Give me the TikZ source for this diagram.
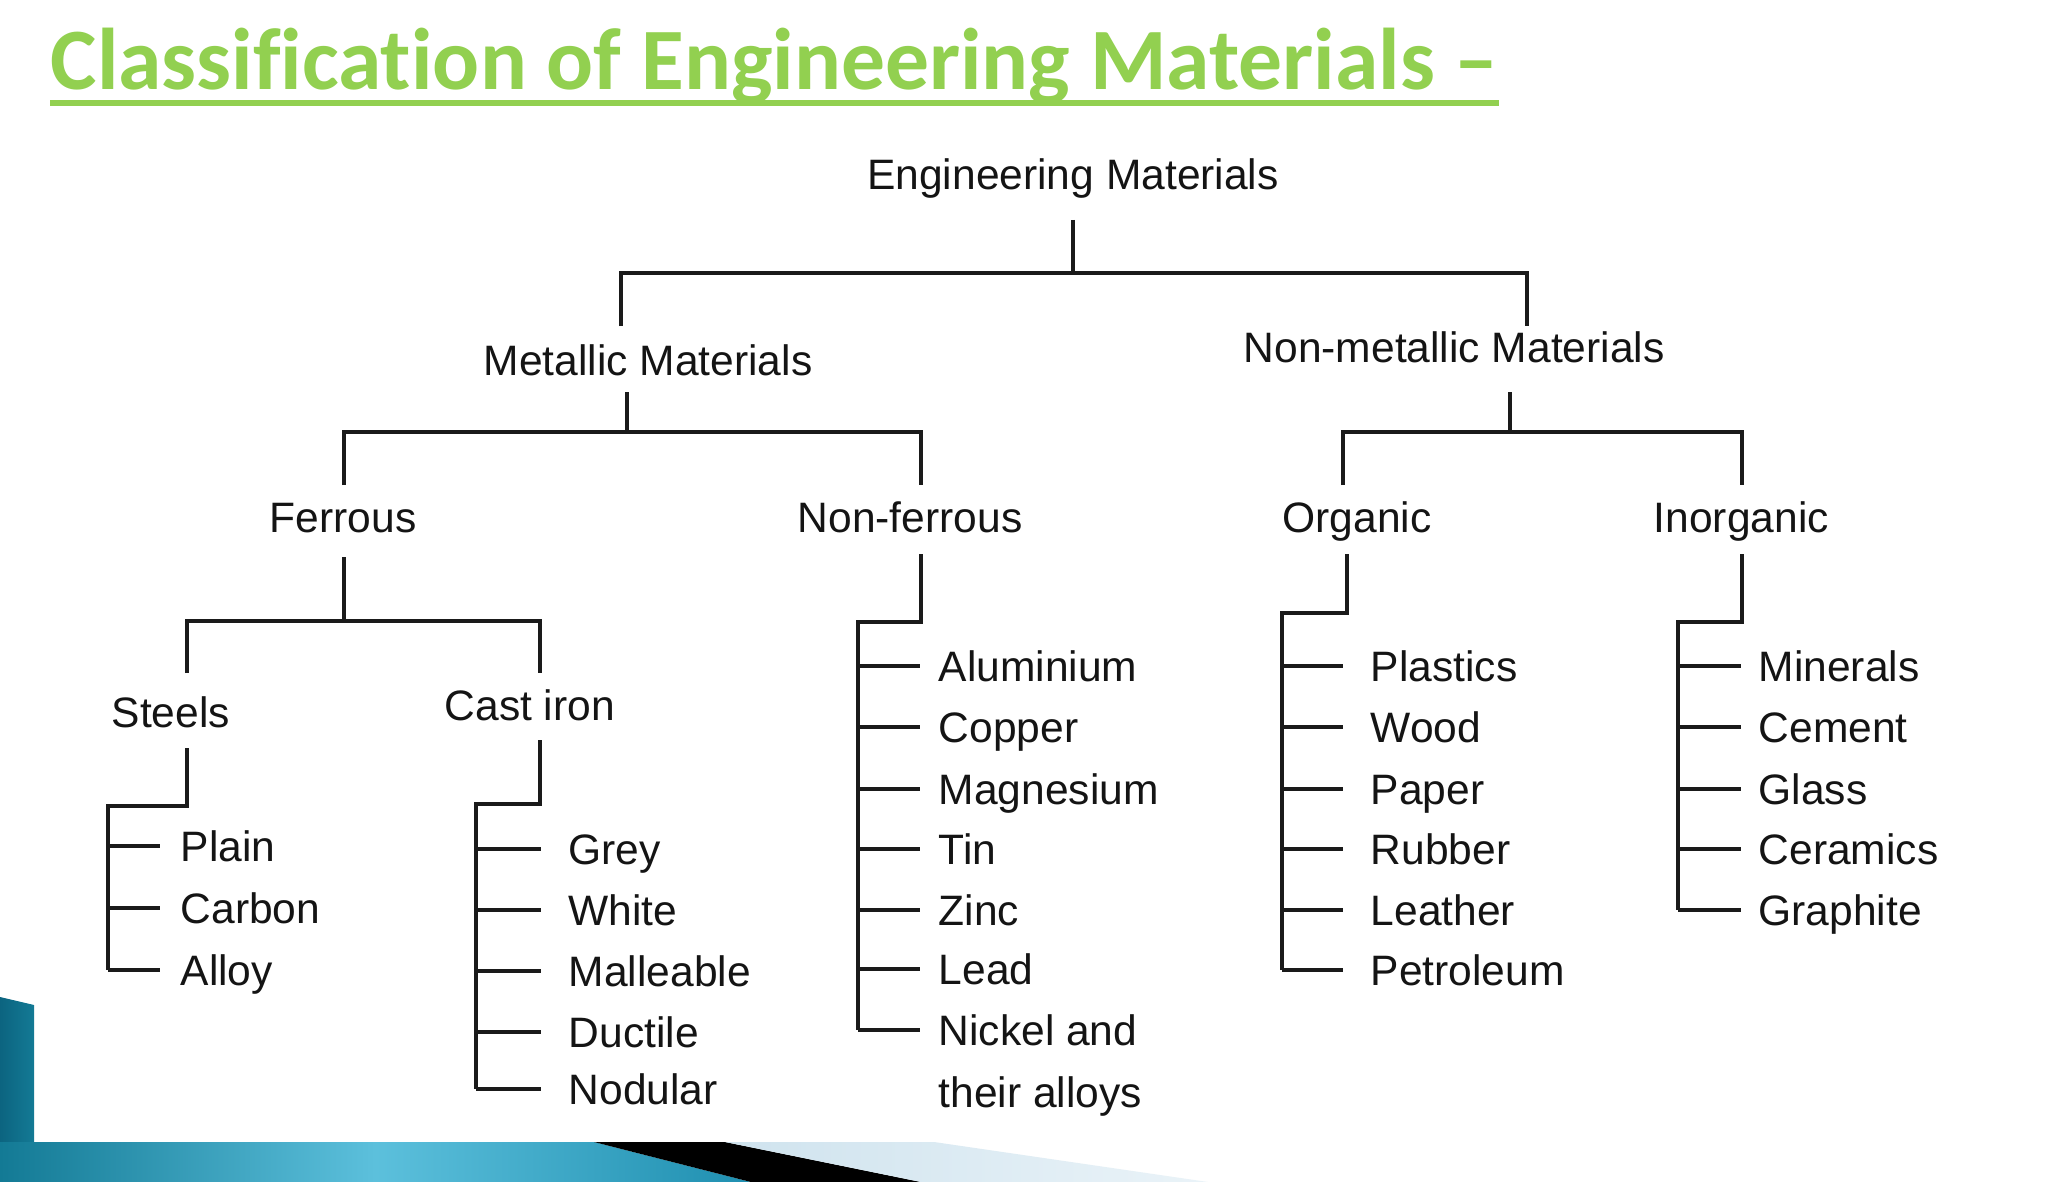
\documentclass[tikz,border=0pt]{standalone}
\usepackage{fontspec}
\newfontfamily\diagfont{Liberation Sans}
\newfontfamily\titlefont{Carlito}[Ligatures={NoCommon}]
\definecolor{titlegreen}{HTML}{92D050}
\definecolor{txtc}{HTML}{141414}
\definecolor{linec}{HTML}{1A1A1A}
\definecolor{tealdark}{HTML}{0C6480}
\definecolor{tealmid}{HTML}{137A95}
\definecolor{teallight}{HTML}{5CC0DC}
\definecolor{tealend}{HTML}{1F8FB0}
\definecolor{paleA}{HTML}{CFE3EE}
\definecolor{paleB}{HTML}{EAF3F8}
\begin{document}
\begin{tikzpicture}[x=0.01cm,y=-0.01cm,
  conn/.style={draw=linec,line width=0.95pt},
  lbl/.style={inner sep=0pt,anchor=base west,text=txtc,
    font=\diagfont\fontsize{12.1}{17.6}\selectfont},
  leaf/.style={inner sep=0pt,anchor=west,text=txtc,text height=8.7pt,text depth=0pt,
    font=\diagfont\fontsize{12.1}{17.6}\selectfont}]
\useasboundingbox (0,0) rectangle (2048,1182);
\fill[white] (0,0) rectangle (2048,1182);

% ---- bottom decoration ----
\shade[left color=tealdark,right color=tealmid] (0,997) -- (34,1005) -- (34,1182) -- (0,1182) -- cycle;
\shade[left color=tealmid,right color=tealend,middle color=teallight] (0,1142) -- (594,1142) -- (751,1182) -- (0,1182) -- cycle;
\fill[black] (594,1142) -- (725,1142) -- (921,1182) -- (751,1182) -- cycle;
\shade[left color=paleA,right color=paleB] (725,1142) -- (934,1142) -- (1208,1182) -- (921,1182) -- cycle;

% ---- title ----
\node[anchor=base west,inner sep=0pt,text=titlegreen,
  font=\titlefont\bfseries\fontsize{24.9}{30}\selectfont] (title) at (50,90)
  {Classification of Engineering Materials –};
\draw[titlegreen,line width=1.7pt] ([yshift=-0.13cm]title.base west) -- ([yshift=-0.13cm]title.base east);

% ---- upper levels ----
\node[lbl,anchor=base] (root) at (1073,190) {Engineering Materials};
\node[lbl] (metal) at (483,375) {Metallic Materials};
\node[lbl] (nonmetal) at (1243,362) {Non-metallic Materials};
\node[lbl] (ferrous) at (269,532) {Ferrous};
\node[lbl] (nonferrous) at (797,532) {Non-ferrous};
\node[lbl] (organic) at (1282,532) {Organic};
\node[lbl] (inorganic) at (1653,532) {Inorganic};
\node[lbl] (steels) at (111,727) {Steels};
\node[lbl] (castiron) at (444,720) {Cast iron};

% junction coordinates
\coordinate (em-d) at (1073,220); \coordinate (em-bar) at (1073,273);
\coordinate (mm-u) at (621,326);  \coordinate (nm-u) at (1527,326);
\coordinate (mm-d) at (627,392);  \coordinate (mm-bar) at (627,432);
\coordinate (fe-u) at (344,485);  \coordinate (nf-u) at (921,485);
\coordinate (nm-d) at (1510,392); \coordinate (nm-bar) at (1510,432);
\coordinate (or-u) at (1343,485); \coordinate (in-u) at (1742,485);
\coordinate (fe-d) at (344,557);  \coordinate (fe-bar) at (344,621);
\coordinate (st-u) at (187,673);  \coordinate (ci-u) at (540,673);
\coordinate (st-d) at (187,748);  \coordinate (sv) at (108,806);
\coordinate (ci-d) at (540,740);  \coordinate (cv) at (476,804);
\coordinate (nf-d) at (921,554);  \coordinate (nfv) at (858,622);
\coordinate (or-d) at (1347,554); \coordinate (orv) at (1282,613);
\coordinate (in-d) at (1742,554); \coordinate (inv) at (1678,622);

\draw[conn] (em-d) -- (em-bar);
\draw[conn] (mm-u) |- (em-bar) -| (nm-u);
\draw[conn] (mm-d) -- (mm-bar);
\draw[conn] (fe-u) |- (mm-bar) -| (nf-u);
\draw[conn] (nm-d) -- (nm-bar);
\draw[conn] (or-u) |- (nm-bar) -| (in-u);
\draw[conn] (fe-d) -- (fe-bar);
\draw[conn] (st-u) |- (fe-bar) -| (ci-u);

% ---- Steels ----
\node[leaf] (plain) at (180,846) {Plain};
\node[leaf] (carbon) at (180,908) {Carbon};
\node[leaf] (alloy) at (180,970) {Alloy};
\draw[conn] (st-d) |- (sv) -- (sv |- alloy.west);
\foreach \n in {plain,carbon,alloy} \draw[conn] (sv |- \n.west) -- ([xshift=-0.2cm]\n.west);

% ---- Cast iron ----
\node[leaf] (grey) at (568,849) {Grey};
\node[leaf] (white) at (568,910) {White};
\node[leaf] (malleable) at (568,971) {Malleable};
\node[leaf] (ductile) at (568,1032) {Ductile};
\node[leaf] (nodular) at (568,1089) {Nodular};
\draw[conn] (ci-d) |- (cv) -- (cv |- nodular.west);
\foreach \n in {grey,white,malleable,ductile,nodular} \draw[conn] (cv |- \n.west) -- ([xshift=-0.27cm]\n.west);

% ---- Non-ferrous ----
\node[leaf] (aluminium) at (938,666) {Aluminium};
\node[leaf] (copper) at (938,727) {Copper};
\node[leaf] (magnesium) at (938,789) {Magnesium};
\node[leaf] (tin) at (938,849) {Tin};
\node[leaf] (zinc) at (938,910) {Zinc};
\node[leaf] (lead) at (938,969) {Lead};
\node[leaf] (nickel) at (938,1030) {\begin{tabular}[t]{@{}l@{}}Nickel and\\their alloys\end{tabular}};
\draw[conn] (nf-d) |- (nfv) -- (nfv |- nickel.west);
\foreach \n in {aluminium,copper,magnesium,tin,zinc,lead,nickel} \draw[conn] (nfv |- \n.west) -- ([xshift=-0.18cm]\n.west);

% ---- Organic ----
\node[leaf] (plastics) at (1370,666) {Plastics};
\node[leaf] (wood) at (1370,727) {Wood};
\node[leaf] (paper) at (1370,789) {Paper};
\node[leaf] (rubber) at (1370,849) {Rubber};
\node[leaf] (leather) at (1370,910) {Leather};
\node[leaf] (petroleum) at (1370,970) {Petroleum};
\draw[conn] (or-d) |- (orv) -- (orv |- petroleum.west);
\foreach \n in {plastics,wood,paper,rubber,leather,petroleum} \draw[conn] (orv |- \n.west) -- ([xshift=-0.27cm]\n.west);

% ---- Inorganic ----
\node[leaf] (minerals) at (1758,666) {Minerals};
\node[leaf] (cement) at (1758,727) {Cement};
\node[leaf] (glass) at (1758,789) {Glass};
\node[leaf] (ceramics) at (1758,849) {Ceramics};
\node[leaf] (graphite) at (1758,910) {Graphite};
\draw[conn] (in-d) |- (inv) -- (inv |- graphite.west);
\foreach \n in {minerals,cement,glass,ceramics,graphite} \draw[conn] (inv |- \n.west) -- ([xshift=-0.17cm]\n.west);
\end{tikzpicture}
\end{document}
